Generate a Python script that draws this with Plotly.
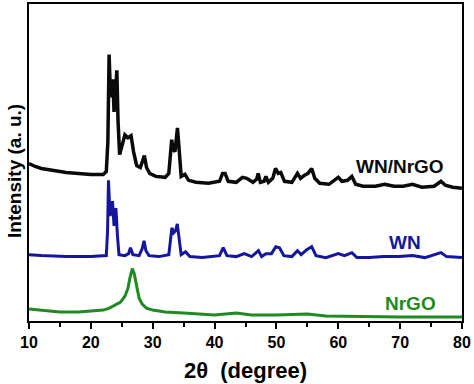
import plotly.graph_objects as go

# WN/NrGO (black)
wnrgo_theta = [10, 11, 12, 14, 16, 18, 20, 22, 22.5, 22.75, 22.95, 23.15, 23.3, 23.55, 23.75, 24.0, 24.2, 24.4, 24.65,
               25.0, 25.5, 26.0, 26.5, 26.9, 27.4, 28.0, 28.4, 28.65, 29.0, 29.5, 30.5, 32.0, 32.6, 32.9, 33.07, 33.3,
               33.6, 33.85, 34.0, 34.3, 34.6, 35.2, 35.8, 37, 39, 40.8, 41.3, 41.7, 42.2, 43.5, 44.5, 45.2, 46.2, 46.8,
               47.05, 47.4, 48.0, 48.3, 48.7, 49.4, 49.85, 50.3, 50.7, 51.3, 52.5, 53.4, 53.9, 54.5, 55.1, 55.7, 56.2,
               57, 58.5, 60.0, 60.6, 61.5, 62.2, 62.8, 64, 66, 67.5, 69, 70.5, 72, 73.5, 75.5, 76.6, 77.3, 78.5, 80]
wnrgo_int = [159, 156, 154, 152, 150, 149, 148, 148, 151, 181, 269, 231, 226, 244, 211, 231, 253, 201, 168,
             176, 188, 185, 187, 171, 157, 155, 161, 167, 155, 149, 146, 145, 149, 176, 183, 173,
             171, 186, 195, 171, 146, 148, 142, 140, 139, 141, 149, 149, 141, 140, 145, 144, 140, 143,
             149, 140, 141, 146, 140, 144, 154, 149, 150, 141, 140, 149, 144, 147, 149, 154, 144,
             139, 138, 145, 141, 142, 146, 138, 136, 136, 138, 136, 136, 138, 135, 136, 141, 137, 135, 134]

# WN (blue)
wn_theta = [10, 12, 16, 20, 22.5, 22.7, 22.85, 23.1, 23.3, 23.5, 23.75, 24.05, 24.3, 24.55, 25.5, 26.1, 26.4, 26.8,
            27.8, 28.3, 28.6, 28.9, 29.4, 31, 32.6, 32.9, 33.1, 33.4, 33.7, 33.97, 34.3, 34.6, 35.3, 36, 38, 40.8,
            41.4, 42.0, 43.5, 44.8, 46, 47.1, 47.6, 48.3, 49.2, 49.9, 50.5, 51.2, 52.5, 53.4, 54.0, 54.9, 55.7,
            56.4, 58, 60, 61, 62.2, 63, 65, 67.3, 69.8, 72, 74, 76.6, 77.5, 80]
wn_int = [67, 66, 65, 65, 66, 91, 142, 106, 111, 121, 96, 114, 86, 67, 66, 68, 74, 67,
          66, 73, 81, 71, 66, 65, 67, 86, 94, 89, 91, 98, 81, 67, 70, 65, 64, 66,
          74, 66, 65, 68, 65, 71, 65, 68, 68, 75, 74, 66, 65, 71, 67, 72, 75,
          66, 64, 68, 66, 69, 64, 64, 65, 65, 66, 64, 69, 65, 64]

# NrGO (green)
nrgo_theta = [10, 12, 15, 18, 20, 22, 23, 24, 24.8, 25.5, 26.0, 26.3, 26.7, 27.0, 27.4, 27.8, 28.3, 29, 30, 32,
              35, 40, 43.5, 46, 50, 55, 58, 65, 70, 75, 80]
nrgo_int = [12, 11, 9, 9, 10, 11, 13, 16, 19, 25, 33, 43, 53, 48, 34, 23, 17, 13, 11, 9,
            8, 6, 8, 6, 6, 7, 5, 4, 4, 4, 4]

x_ticks = [10, 20, 30, 40, 50, 60, 70, 80]
labels = ["WN/NrGO", "WN", "NrGO"]

BLACK = "#0a0a0a"
BLUE = "#16169c"
GREEN = "#1f8a22"

fig = go.Figure()
fig.add_trace(go.Scatter(x=wnrgo_theta, y=wnrgo_int, mode="lines", line=dict(color=BLACK, width=3.5), name=labels[0]))
fig.add_trace(go.Scatter(x=wn_theta, y=wn_int, mode="lines", line=dict(color=BLUE, width=3), name=labels[1]))
fig.add_trace(go.Scatter(x=nrgo_theta, y=nrgo_int, mode="lines", line=dict(color=GREEN, width=3), name=labels[2]))

font_b = "Liberation Sans, Arial, sans-serif"
fig.add_annotation(x=70.0, y=156, text="<b>WN/NrGO</b>", showarrow=False, font=dict(family=font_b, size=19, color=BLACK))
fig.add_annotation(x=70.8, y=79, text="<b>WN</b>", showarrow=False, font=dict(family=font_b, size=19, color=BLUE))
fig.add_annotation(x=71.6, y=18, text="<b>NrGO</b>", showarrow=False, font=dict(family=font_b, size=19, color=GREEN))

# y-axis title placed as a rotated annotation to match reference position
fig.add_annotation(xref="paper", yref="paper", x=-0.035, y=0.473, xanchor="center", yanchor="middle",
                   text="<b>Intensity (a. u.)</b>", textangle=-90, showarrow=False,
                   font=dict(family=font_b, size=19, color="black"))

fig.update_layout(
    width=474, height=384,
    margin=dict(l=29, r=12, t=2, b=63),
    paper_bgcolor="white", plot_bgcolor="white",
    showlegend=False,
    font=dict(family=font_b, color="black"),
)
fig.update_xaxes(
    range=[10, 80], tickvals=x_ticks, ticktext=[f"<b>{v}</b>" for v in x_ticks],
    tickfont=dict(size=16), ticks="outside", ticklen=6, tickwidth=2, tickcolor="black",
    minor=dict(dtick=5, tick0=10, ticks="outside", ticklen=4, tickwidth=2, tickcolor="black"),
    showline=True, linewidth=2, linecolor="black", mirror=True, showgrid=False, zeroline=False,
    title=dict(text="<b>2θ  (degree)</b>", font=dict(size=22), standoff=12),
)
fig.update_yaxes(
    range=[0, 320], showticklabels=False, ticks="", showline=True, linewidth=2, linecolor="black",
    mirror=True, showgrid=False, zeroline=False,
)
fig.write_html("out.html", config={"displayModeBar": False},
               post_script="document.body.style.margin='0';document.body.style.overflow='hidden';")
